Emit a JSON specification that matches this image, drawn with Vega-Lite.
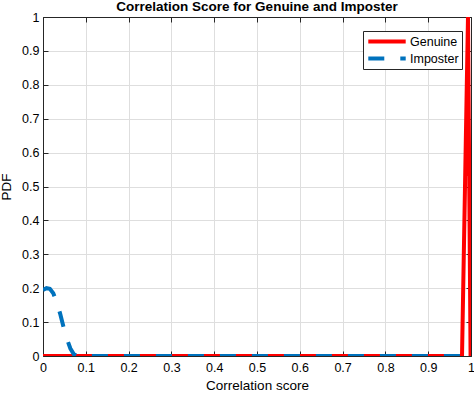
{
  "$schema": "https://vega.github.io/schema/vega-lite/v6.json",
  "width": 428,
  "height": 339,
  "autosize": "none",
  "padding": {"left": 43, "top": 17, "right": 3, "bottom": 39},
  "background": "white",
  "config": {
    "font": "Liberation Sans",
    "view": {"stroke": "#262626", "strokeWidth": 1},
    "axis": {
      "domainColor": "#262626",
      "tickColor": "#262626",
      "labelColor": "#000000",
      "titleColor": "#000000",
      "labelFontSize": 12.5,
      "titleFontSize": 13.5,
      "titleFontWeight": "normal",
      "gridColor": "#dedede",
      "gridWidth": 1,
      "tickSize": -5,
      "format": "~g"
    }
  },
  "title": {
    "text": "Correlation Score for Genuine and Imposter",
    "fontSize": 13.5,
    "fontWeight": "bold",
    "color": "#000000",
    "offset": -2
  },
  "data": {
    "values": [
      {"series": "Genuine", "x": 0, "y": 0},
      {"series": "Genuine", "x": 0.979, "y": 0},
      {"series": "Genuine", "x": 0.993, "y": 1},
      {"series": "Genuine", "x": 0.999, "y": 0},
      {"series": "Imposter", "x": 0, "y": 0.195},
      {"series": "Imposter", "x": 0.008, "y": 0.2},
      {"series": "Imposter", "x": 0.016, "y": 0.198},
      {"series": "Imposter", "x": 0.024, "y": 0.185},
      {"series": "Imposter", "x": 0.032, "y": 0.16},
      {"series": "Imposter", "x": 0.04, "y": 0.125},
      {"series": "Imposter", "x": 0.048, "y": 0.085},
      {"series": "Imposter", "x": 0.056, "y": 0.05},
      {"series": "Imposter", "x": 0.064, "y": 0.022},
      {"series": "Imposter", "x": 0.072, "y": 0.005},
      {"series": "Imposter", "x": 0.08, "y": 0},
      {"series": "Imposter", "x": 1, "y": 0}
    ]
  },
  "layer": [
    {
      "mark": {"type": "line", "strokeWidth": 4, "clip": true},
      "encoding": {
        "x": {
          "field": "x", "type": "quantitative",
          "scale": {"domain": [0, 1], "nice": false},
          "axis": {
            "title": "Correlation score",
            "values": [0, 0.1, 0.2, 0.3, 0.4, 0.5, 0.6, 0.7, 0.8, 0.9, 1],
            "labelPadding": 10,
            "titlePadding": 5,
            "labelFlush": false
          }
        },
        "y": {
          "field": "y", "type": "quantitative",
          "scale": {"domain": [0, 1], "nice": false},
          "axis": {
            "title": "PDF",
            "values": [0, 0.1, 0.2, 0.3, 0.4, 0.5, 0.6, 0.7, 0.8, 0.9, 1],
            "labelPadding": 9,
            "titlePadding": 8,
            "labelFlush": false
          }
        },
        "color": {
          "field": "series", "type": "nominal",
          "scale": {"domain": ["Genuine", "Imposter"], "range": ["#ff0000", "#0072bd"]},
          "legend": {
            "title": null,
            "orient": "none",
            "legendX": 320,
            "legendY": 14,
            "fillColor": "white",
            "strokeColor": "#262626",
            "padding": 3,
            "symbolType": "stroke",
            "symbolSize": 1400,
            "symbolStrokeWidth": 4,
            "clipHeight": 15,
            "labelFontSize": 12.5,
            "labelColor": "#000000",
            "rowPadding": 2,
            "labelOffset": 2
          }
        },
        "strokeDash": {
          "field": "series", "type": "nominal",
          "scale": {"domain": ["Genuine", "Imposter"], "range": [[1, 0], [16, 16]]},
          "legend": null
        }
      }
    },
    {
      "mark": {"type": "rule", "opacity": 0},
      "encoding": {
        "x": {
          "datum": 0, "type": "quantitative",
          "scale": {"domain": [0, 1], "nice": false},
          "axis": {"orient": "top", "labels": false, "title": null, "grid": false, "values": [0, 0.1, 0.2, 0.3, 0.4, 0.5, 0.6, 0.7, 0.8, 0.9, 1]}
        },
        "y": {
          "datum": 0, "type": "quantitative",
          "scale": {"domain": [0, 1], "nice": false},
          "axis": {"orient": "right", "labels": false, "title": null, "grid": false, "values": [0, 0.1, 0.2, 0.3, 0.4, 0.5, 0.6, 0.7, 0.8, 0.9, 1]}
        }
      }
    }
  ],
  "resolve": {"axis": {"x": "independent", "y": "independent"}}
}
